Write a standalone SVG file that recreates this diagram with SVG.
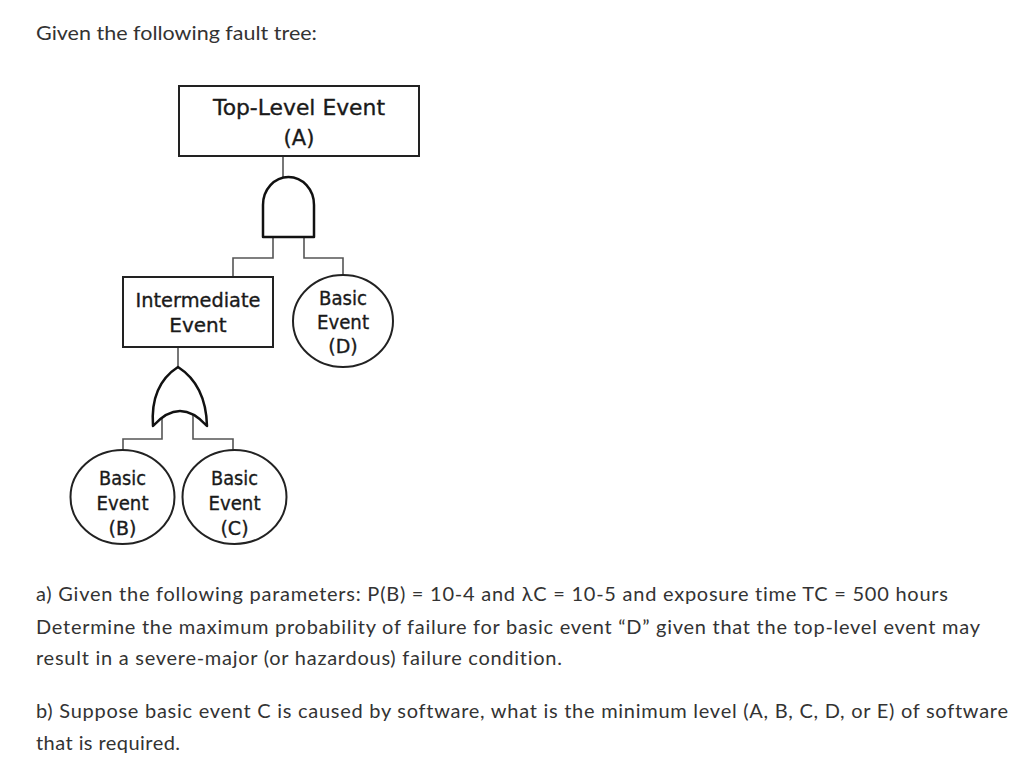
<svg xmlns="http://www.w3.org/2000/svg" width="1024" height="774" viewBox="0 0 1024 774">
<style>
.body{font-family:Lato,"Noto Sans","Liberation Sans",sans-serif;font-size:20px;fill:#333333;font-variant-ligatures:none}
.ft{font-family:"DejaVu Sans","Liberation Sans",sans-serif;fill:#1a1a1a;stroke:#1a1a1a;stroke-width:0.35;text-anchor:middle}
.box{fill:#ffffff;stroke:#222222;stroke-width:2}
.gate{fill:#ffffff;stroke:#111111;stroke-width:2.5;stroke-linejoin:round}
.conn{fill:none;stroke:#555555;stroke-width:1.6}
</style>
<rect width="1024" height="774" fill="#ffffff"/>
<text class="body" x="36" y="40" textLength="281" lengthAdjust="spacingAndGlyphs">Given the following fault tree:</text>
<g id="connectors">
<polyline class="conn" points="283,156 283,180"/>
<polyline class="conn" points="273,235 273,258 233,258 233,277"/>
<polyline class="conn" points="304,235 304,258 343,258 343,275"/>
<polyline class="conn" points="178,347 178,370"/>
<polyline class="conn" points="162,415 162,439 123,439 123,450"/>
<polyline class="conn" points="193,415 193,439 233,439 233,450"/>
</g>
<g id="top-event">
<rect class="box" x="179" y="86" width="240" height="70"/>
<text class="ft" x="299" y="115" font-size="21" textLength="172" lengthAdjust="spacingAndGlyphs">Top-Level Event</text>
<text class="ft" x="299" y="145" font-size="21">(A)</text>
</g>
<g id="and-gate">
<path class="gate" d="M263,237 L263,205 A25.5,28 0 0 1 314,205 L314,237 Z"/>
</g>
<g id="intermediate-event">
<rect class="box" x="123" y="277" width="150" height="70"/>
<text class="ft" x="198" y="307" font-size="20" textLength="125" lengthAdjust="spacingAndGlyphs">Intermediate</text>
<text class="ft" x="198" y="332" font-size="20">Event</text>
</g>
<g id="basic-event-d">
<ellipse class="box" cx="343" cy="321" rx="50" ry="46"/>
<text class="ft" x="343" y="305" font-size="19" textLength="48" lengthAdjust="spacingAndGlyphs">Basic</text>
<text class="ft" x="343" y="329" font-size="19" textLength="52" lengthAdjust="spacingAndGlyphs">Event</text>
<text class="ft" x="343" y="353" font-size="19">(D)</text>
</g>
<g id="or-gate">
<path class="gate" d="M153,426 Q150,385 178,367 Q206,385 207,426 Q180,396 153,426 Z"/>
</g>
<g id="basic-event-b">
<ellipse class="box" cx="122.5" cy="497" rx="52" ry="47"/>
<text class="ft" x="122.5" y="485" font-size="19" textLength="47" lengthAdjust="spacingAndGlyphs">Basic</text>
<text class="ft" x="122.5" y="510" font-size="19" textLength="52" lengthAdjust="spacingAndGlyphs">Event</text>
<text class="ft" x="122.5" y="535" font-size="19">(B)</text>
</g>
<g id="basic-event-c">
<ellipse class="box" cx="234.5" cy="497" rx="52" ry="47"/>
<text class="ft" x="234.5" y="485" font-size="19" textLength="47" lengthAdjust="spacingAndGlyphs">Basic</text>
<text class="ft" x="234.5" y="510" font-size="19" textLength="52" lengthAdjust="spacingAndGlyphs">Event</text>
<text class="ft" x="234.5" y="535" font-size="19">(C)</text>
</g>
<text class="body" x="36" y="601" textLength="912" lengthAdjust="spacing">a) Given the following parameters: P(B) = 10-4 and λC = 10-5 and exposure time TC = 500 hours</text>
<text class="body" x="36" y="634" textLength="944" lengthAdjust="spacing">Determine the maximum probability of failure for basic event “D” given that the top-level event may</text>
<text class="body" x="36" y="665" textLength="526" lengthAdjust="spacing">result in a severe-major (or hazardous) failure condition.</text>
<text class="body" x="36" y="718" textLength="972" lengthAdjust="spacing">b) Suppose basic event C is caused by software, what is the minimum level (A, B, C, D, or E) of software</text>
<text class="body" x="36" y="750" textLength="144" lengthAdjust="spacing">that is required.</text>
</svg>
